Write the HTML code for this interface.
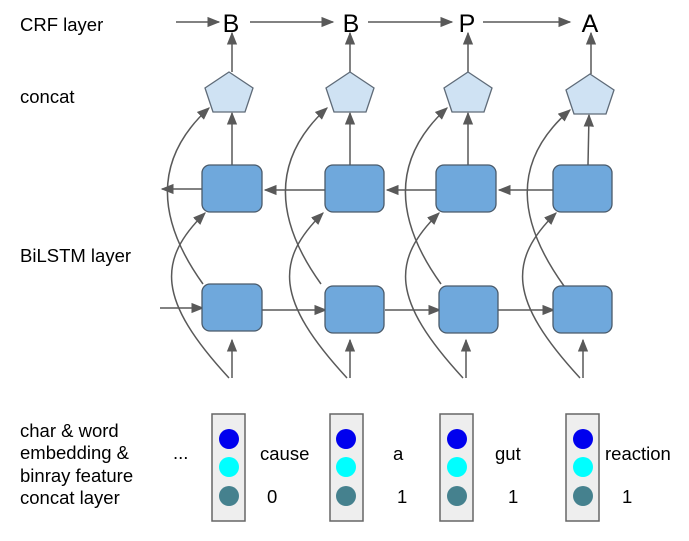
<!DOCTYPE html>
<html><head><meta charset="utf-8"><style>
html,body{margin:0;padding:0;background:#fff;width:689px;height:541px;overflow:hidden}
svg{display:block}
text{font-family:"Liberation Sans",sans-serif;fill:#000}
</style></head><body>
<svg width="689" height="541" viewBox="0 0 689 541" xmlns="http://www.w3.org/2000/svg">
<defs>
<marker id="b" viewBox="0 0 10 10" refX="9" refY="5" markerWidth="13" markerHeight="13" orient="auto" markerUnits="userSpaceOnUse">
<path d="M0,1 L10,5 L0,9 z" fill="#595959"/></marker>
</defs>
<g font-size="18.5">
<text x="20" y="31">CRF layer</text>
<text x="20" y="103">concat</text>
<text x="20" y="262">BiLSTM layer</text>
<text x="20" y="437">char &amp; word</text>
<text x="20" y="459">embedding &amp;</text>
<text x="20" y="482">binray feature</text>
<text x="20" y="504">concat layer</text>
</g>
<g font-size="25" text-anchor="middle">
<text x="231" y="32">B</text><text x="351" y="32">B</text><text x="467" y="32">P</text><text x="590" y="32">A</text>
</g>
<g stroke="#595959" stroke-width="1.5" fill="none" marker-end="url(#b)">
<line x1="176" y1="22" x2="219" y2="22"/>
<line x1="250" y1="22" x2="333" y2="22"/>
<line x1="368" y1="22" x2="452" y2="22"/>
<line x1="483" y1="22" x2="570" y2="22"/>
<line x1="232" y1="72" x2="232" y2="33"/><line x1="350" y1="72" x2="350" y2="33"/><line x1="468" y1="72" x2="468" y2="33"/><line x1="591" y1="74" x2="591" y2="33"/>
<line x1="232" y1="165" x2="232" y2="113"/><line x1="350" y1="165" x2="350" y2="113"/><line x1="468" y1="165" x2="468" y2="113"/><line x1="588" y1="165" x2="589" y2="115"/>
<line x1="232" y1="378" x2="232" y2="340"/><line x1="350" y1="378" x2="350" y2="340"/><line x1="466" y1="378" x2="466" y2="340"/><line x1="583" y1="378" x2="583" y2="340"/>
<line x1="160" y1="308" x2="203" y2="308"/><line x1="262" y1="310" x2="326" y2="310"/><line x1="385" y1="310" x2="440" y2="310"/><line x1="498" y1="310" x2="554" y2="310"/>
<line x1="205" y1="189" x2="162" y2="189"/><line x1="325" y1="190" x2="265" y2="190"/><line x1="437" y1="190" x2="387" y2="190"/><line x1="553" y1="190" x2="499" y2="190"/>
<path d="M229 378 C157 300 157 260 205 213"/>
<path d="M203 284 C157 220 152 160 209 108"/>
<path d="M347 378 C275 300 275 260 323 213"/>
<path d="M321 284 C275 220 270 160 327 108"/>
<path d="M463 378 C391 300 391 260 439 213"/>
<path d="M441 284 C395 220 390 160 447 108"/>
<path d="M580 378 C508 300 508 260 556 213"/>
<path d="M564 286 C518 222 510 162 570 110"/>
</g>
<g fill="#6fa8dc" stroke="#4a5a6a" stroke-width="1.3">
<rect x="202" y="165" width="60" height="47" rx="8"/><rect x="325" y="165" width="59" height="47" rx="8"/><rect x="436" y="165" width="60" height="47" rx="8"/><rect x="553" y="165" width="59" height="47" rx="8"/>
<rect x="202" y="284" width="60" height="47" rx="8"/><rect x="325" y="286" width="59" height="47" rx="8"/><rect x="439" y="286" width="59" height="47" rx="8"/><rect x="553" y="286" width="59" height="47" rx="8"/>
</g>
<g fill="#cfe2f3" stroke="#5f6b78" stroke-width="1.3">
<polygon points="229,72 253,88 245,112 213,112 205,88"/>
<polygon points="350,72 374,88 366,112 334,112 326,88"/>
<polygon points="468,72 492,88 484,112 452,112 444,88"/>
<polygon points="590,74 614,90 606,114 574,114 566,90"/>
</g>
<g fill="#eeeeee" stroke="#666" stroke-width="1.5">
<rect x="212" y="414" width="33" height="107"/><rect x="330" y="414" width="33" height="107"/><rect x="440" y="414" width="33" height="107"/><rect x="566" y="414" width="33" height="107"/>
</g>
<g>
<circle cx="229" cy="439" r="10" fill="#0000ee"/><circle cx="229" cy="467" r="10" fill="#00ffff"/><circle cx="229" cy="496" r="10" fill="#45818e"/>
<circle cx="346" cy="439" r="10" fill="#0000ee"/><circle cx="346" cy="467" r="10" fill="#00ffff"/><circle cx="346" cy="496" r="10" fill="#45818e"/>
<circle cx="457" cy="439" r="10" fill="#0000ee"/><circle cx="457" cy="467" r="10" fill="#00ffff"/><circle cx="457" cy="496" r="10" fill="#45818e"/>
<circle cx="583" cy="439" r="10" fill="#0000ee"/><circle cx="583" cy="467" r="10" fill="#00ffff"/><circle cx="583" cy="496" r="10" fill="#45818e"/>
</g>
<g font-size="18.5">
<text x="173" y="459">...</text>
<text x="260" y="460">cause</text>
<text x="393" y="460">a</text>
<text x="495" y="460">gut</text>
<text x="605" y="460">reaction</text>
<text x="267" y="503">0</text>
<text x="397" y="503">1</text>
<text x="508" y="503">1</text>
<text x="622" y="503">1</text>
</g>
</svg>
</body></html>
